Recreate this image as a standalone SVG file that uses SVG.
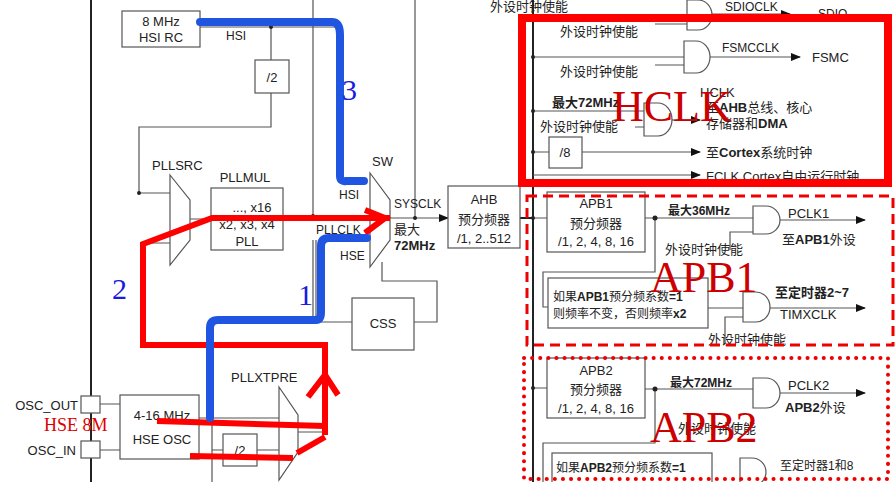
<svg xmlns="http://www.w3.org/2000/svg" width="895" height="482" viewBox="0 0 895 482">
<style>
text{font-family:"Liberation Sans","Noto Sans CJK SC",sans-serif;font-size:13px;fill:#222}
.s{font-size:12px}
.c{text-anchor:middle}
.b{font-weight:bold}
.box{fill:#fff;stroke:#555;stroke-width:1.2}
.ln{fill:none;stroke:#555;stroke-width:1.2}
.bus{fill:none;stroke:#222;stroke-width:2}
.red{fill:none;stroke:#f00;stroke-width:6;stroke-linecap:butt;stroke-linejoin:miter}
.blue{fill:none;stroke:#1f55e0;stroke-width:8;stroke-linecap:round;stroke-linejoin:round}
text.ann{font-family:"Liberation Serif",serif}
text.num{font-size:30px;fill:#1a1ae0}
text.big{font-size:44px;fill:#c00}
.dot{fill:#222}
</style>
<defs>
<marker id="ar" markerWidth="10" markerHeight="8" refX="9" refY="4" orient="auto" markerUnits="userSpaceOnUse"><path d="M0,0 L10,4 L0,8 z" fill="#111"/></marker>
</defs>
<rect width="895" height="482" fill="#fff"/>
<g id="connectors">
<path class="bus" d="M91,0 V482"/>
<path class="ln" d="M313,0 V216 M415,0 V218"/>
<path class="ln" d="M200,27 H340 M271,27 V60 M271,93 V127 H139 V193 H171 M190,219 H211 M283,218 H370"/>
<path class="ln" d="M313,240 V322 M316,240 V322 M212,418 V322 H352 M414,322 H437 V281 H382 V262"/>
<path class="ln" d="M100,404 H120 M100,450 H120 M199,418 H279 M212,418 V482 M212,450 H223 M257,450 H280 M298,432 H325 V345 H143 V243 H171"/>
<path class="ln" d="M390,218 H448" marker-end="url(#ar)"/>
<path class="bus" d="M533,0 V482 M520,218 H533"/>
<path class="ln" d="M655,24 H687 M533,57 H684 M655,65 H684 M533,111 H648 M635,127 H644 M533,152 H549"/>
<path class="ln" d="M711,14 H790" marker-end="url(#ar)"/>
<path class="ln" d="M710,57 H800" marker-end="url(#ar)"/>
<path class="ln" d="M672,120 H700" marker-end="url(#ar)"/>
<path class="ln" d="M582,152 H700" marker-end="url(#ar)"/>
<path class="ln" d="M533,175 H700" marker-end="url(#ar)"/>
<path class="ln" d="M533,218 H547 M645,218 H753 M730,250 V232 H753 M655,218 V272 H543 V307 H548 M708,308 H743 M725,343 V317 H743"/>
<path class="ln" d="M780,220 H865" marker-end="url(#ar)"/>
<path class="ln" d="M770,308 H865" marker-end="url(#ar)"/>
<path class="ln" d="M533,388 H547 M645,389 H753 M655,389 V443 H543 V482"/>
<path class="ln" d="M780,393 H865" marker-end="url(#ar)"/>
<circle class="dot" cx="271" cy="27" r="2"/><circle class="dot" cx="139" cy="193" r="2"/><circle class="dot" cx="313" cy="216" r="2"/><circle class="dot" cx="415" cy="218" r="2"/>
<circle class="dot" cx="533" cy="57" r="2"/><circle class="dot" cx="533" cy="111" r="2"/><circle class="dot" cx="533" cy="152" r="2"/><circle class="dot" cx="533" cy="218" r="2"/><circle class="dot" cx="655" cy="218" r="2.5"/><circle class="dot" cx="533" cy="388" r="2"/><circle class="dot" cx="655" cy="389" r="2.5"/>
</g>
<g id="hsi"><rect class="box" x="122" y="11" width="78" height="36"/><text class="c" x="161" y="26">8 MHz</text><text class="c" x="161" y="42">HSI RC</text><text class="s" x="226" y="40">HSI</text></g>
<g id="div2a"><rect class="box" x="255" y="60" width="34" height="33"/><text class="c" x="272" y="82">/2</text></g>
<g id="pllsrc"><path class="box" d="M170,175 L190,200 V240 L170,265 Z"/><text x="152" y="170">PLLSRC</text></g>
<g id="pll"><rect class="box" x="211" y="188" width="72" height="62"/><text class="c" x="245" y="182">PLLMUL</text><text class="c" x="252" y="212">..., x16</text><text class="c" x="247" y="229">x2, x3, x4</text><text class="c" x="247" y="246">PLL</text></g>
<g id="sw"><path class="box" d="M370,173 L390,200 V240 L370,267 Z"/><text x="372" y="166">SW</text><text class="s" x="339" y="199">HSI</text><text class="s" x="340" y="260">HSE</text><text class="s" x="316" y="234">PLLCLK</text><text class="s" x="394" y="208">SYSCLK</text><text x="394" y="234">最大</text><text x="394" y="250" class="b">72MHz</text></g>
<g id="ahb"><rect class="box" x="448" y="186" width="72" height="62"/><text class="c" x="484" y="204">AHB</text><text class="c" x="484" y="224">预分频器</text><text class="c" x="484" y="243">/1, 2..512</text></g>
<g id="css"><rect class="box" x="352" y="298" width="62" height="52"/><text class="c" x="383" y="328">CSS</text></g>
<g id="pllxtpre"><path class="box" d="M279,387 L298,415 V452 L279,480 Z"/><text x="231" y="382">PLLXTPRE</text></g>
<g id="hseosc"><rect class="box" x="120" y="395" width="79" height="64"/><text class="c" x="162" y="420">4-16 MHz</text><text class="c" x="162" y="444">HSE OSC</text></g>
<g id="div2b"><rect class="box" x="223" y="434" width="34" height="32"/><text class="c" x="240" y="455">/2</text></g>
<g id="pads"><rect class="box" x="81" y="396" width="19" height="17"/><rect class="box" x="81" y="441" width="19" height="17"/><text x="78" y="410" text-anchor="end">OSC_OUT</text><text x="76" y="455" text-anchor="end">OSC_IN</text></g>
<g id="ahbperiph">
<text x="490" y="11">外设时钟使能</text>
<path class="box" d="M687,0 H698 A14,15 0 0 1 698,30 H687 Z"/><text class="s" x="725" y="11">SDIOCLK</text><text class="s" x="818" y="18">SDIO</text>
<text x="560" y="36">外设时钟使能</text>
<path class="box" d="M684,41 H696 A14,16 0 0 1 696,73 H684 Z"/><text class="s" x="722" y="52">FSMCCLK</text><text x="812" y="62">FSMC</text>
<text x="560" y="76">外设时钟使能</text>
<text x="552" y="107" class="b">最大72MHz</text>
<path class="box" d="M644,103 H658 A14,16.5 0 0 1 658,136 H644 Z"/><text x="540" y="131">外设时钟使能</text>
<text x="700" y="97">HCLK</text><text x="706" y="112">至<tspan class="b">AHB</tspan>总线、核心</text><text x="706" y="128">存储器和<tspan class="b">DMA</tspan></text>
<rect class="box" x="549" y="137" width="33" height="31"/><text class="c" x="565" y="157">/8</text>
<text x="706" y="157">至<tspan class="b">Cortex</tspan>系统时钟</text>
<text x="706" y="181">FCLK Cortex自由运行时钟</text>
</g>
<g id="apb1">
<rect class="box" x="547" y="192" width="98" height="60"/><text class="c" x="596" y="208">APB1</text><text class="c" x="596" y="228">预分频器</text><text class="c" x="596" y="246">/1, 2, 4, 8, 16</text>
<text x="668" y="215" class="b s">最大36MHz</text>
<path class="box" d="M753,206 H766 A14,14 0 0 1 766,234 H753 Z"/><text x="788" y="218">PCLK1</text><text x="782" y="244">至<tspan class="b">APB1</tspan>外设</text><text x="665" y="254">外设时钟使能</text>
<rect class="box" x="548" y="278" width="160" height="50"/><text class="s" x="553" y="301">如果<tspan class="b">APB1</tspan>预分频系数<tspan class="b">=1</tspan></text><text class="s" x="553" y="318">则频率不变，否则频率<tspan class="b">x2</tspan></text>
<path class="box" d="M743,292 H756 A14,15 0 0 1 756,322 H743 Z"/><text x="775" y="297" class="b">至定时器2~7</text><text x="780" y="319">TIMXCLK</text><text x="708" y="344">外设时钟使能</text>
</g>
<g id="apb2">
<rect class="box" x="547" y="358" width="98" height="60"/><text class="c" x="596" y="375">APB2</text><text class="c" x="596" y="394">预分频器</text><text class="c" x="596" y="413">/1, 2, 4, 8, 16</text>
<text x="670" y="387" class="b s">最大72MHz</text>
<path class="box" d="M753,378 H766 A14,15 0 0 1 766,408 H753 Z"/><text x="788" y="390">PCLK2</text><text x="785" y="412"><tspan class="b">APB2</tspan>外设</text><text x="678" y="433">外设时钟使能</text>
<rect class="box" x="552" y="453" width="160" height="35"/><text class="s" x="556" y="472">如果<tspan class="b">APB2</tspan>预分频系数<tspan class="b">=1</tspan></text>
<path class="box" d="M740,458 H752 A14,14 0 0 1 752,486 H740 Z"/><text class="s" x="780" y="470">至定时器1和8</text>
</g>
<g id="annotations">
<path class="red" d="M325,435 V345 H143 V244 L212,218 H390"/>
<path class="red" d="M365,210 L385,218 L365,233"/>
<path class="red" d="M308,397 L325,375 L338,395"/>
<path class="red" d="M157,421 L325,426 M190,456 L293,458 M297,453 L325,437"/>
<path class="blue" d="M200,22 H332 Q340,22 340,35 V176 Q340,182 346,181 H364"/>
<path class="blue" d="M210,418 V328 Q210,320 218,320 H316 Q321,320 321,312 V246 Q321,238 329,238 H367"/>
<text class="ann num" x="342" y="100">3</text>
<text class="ann num" x="112" y="299">2</text>
<text class="ann num" x="298" y="305">1</text>
<text class="ann" x="44" y="431" style="font-size:18px;fill:#d00">HSE 8M</text>
<rect x="522" y="18" width="366" height="165" fill="none" stroke="#f00" stroke-width="8"/>
<text class="ann big" x="612" y="121">HCLK</text>
<rect x="527" y="196" width="366" height="149" fill="none" stroke="#e00" stroke-width="3" stroke-dasharray="10,6"/>
<text class="ann big" x="650" y="292">APB1</text>
<rect x="524" y="358" width="364" height="121" fill="none" stroke="#e00" stroke-width="4" stroke-dasharray="0.1,8" stroke-linecap="round"/>
<text class="ann big" x="650" y="442">APB2</text>
</g>
</svg>
